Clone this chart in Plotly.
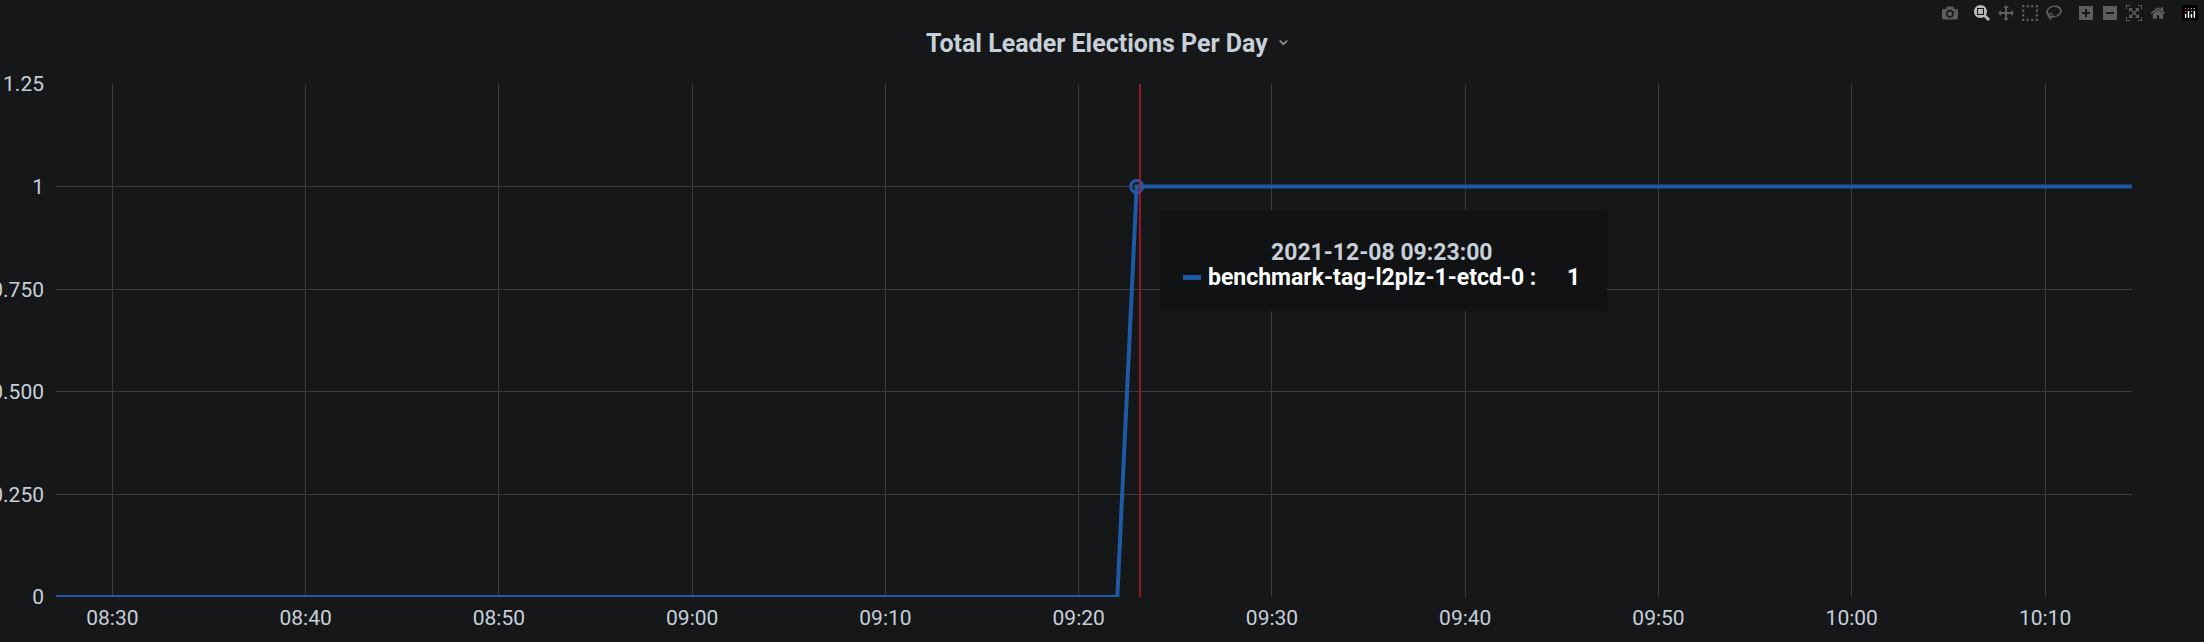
import plotly.graph_objects as go

# series (1-minute samples, step at 09:23)
times = ["2021-12-08 08:27:05", "2021-12-08 09:22:00", "2021-12-08 09:23:00", "2021-12-08 10:14:30"]
values = [0, 0, 1, 1]
series_name = "benchmark-tag-l2plz-1-etcd-0"
hover_time = "2021-12-08 09:23:00"
hover_value = 1
y_ticks = [0, 0.25, 0.5, 0.75, 1, 1.25]
y_labels = ["0", "0.250", "0.500", "0.750", "1", "1.25"]

W, H = 2204, 642
M = dict(l=56, r=72, t=84, b=25)
BG = "#161719"
TEXT = "#c7d0d9"
GRID = "#3b3c3f"
LINE = "#1f5aa6"
FONT = "Roboto, Inter, sans-serif"


def px_x(x):
    return (x - M["l"]) / (W - M["l"] - M["r"])


def px_y(y):
    return 1 - (y - M["t"]) / (H - M["t"] - M["b"])


fig = go.Figure()
fig.add_trace(go.Scatter(
    x=times, y=values, mode="lines", name=series_name,
    line=dict(color=LINE, width=4), hoverinfo="skip",
))
fig.add_trace(go.Scatter(
    x=[hover_time], y=[hover_value], mode="markers",
    marker=dict(size=12, color="rgba(0,0,0,0)", line=dict(color=LINE, width=3)),
    hoverinfo="skip",
))

# hover crosshair
fig.add_shape(type="line", xref="x", yref="paper", x0="2021-12-08 09:23:10",
              x1="2021-12-08 09:23:10", y0=0, y1=1, line=dict(color="#c4162a", width=1.5))

# tooltip box
fig.add_shape(type="rect", xref="paper", yref="paper",
              x0=px_x(1160), x1=px_x(1607), y0=px_y(320), y1=px_y(215),
              fillcolor="#111213", line=dict(width=0), layer="above")
fig.add_shape(type="line", xref="paper", yref="paper",
              x0=px_x(1183), x1=px_x(1201), y0=px_y(285), y1=px_y(285),
              line=dict(color=LINE, width=5), layer="above")
fig.add_annotation(xref="paper", yref="paper", x=px_x(1382), y=px_y(243),
                   text="<b>" + hover_time + "</b>", showarrow=False,
                   font=dict(size=23, color=TEXT, family=FONT))
fig.add_annotation(xref="paper", yref="paper", x=px_x(1206), y=px_y(285), xanchor="left",
                   text="<b>" + series_name + " :</b>", showarrow=False,
                   font=dict(size=23, color="#ffffff", family=FONT))
fig.add_annotation(xref="paper", yref="paper", x=px_x(1582), y=px_y(285),
                   text="<b>" + str(hover_value) + "</b>", showarrow=False,
                   font=dict(size=23, color="#ffffff", family=FONT))

# panel title
fig.add_annotation(xref="paper", yref="paper", x=px_x(1270), y=px_y(25), xanchor="right",
                   text="<b>Total Leader Elections Per Day</b>", showarrow=False,
                   font=dict(size=25, color=TEXT, family=FONT))
fig.add_annotation(xref="paper", yref="paper", x=px_x(1284), y=px_y(22),
                   text="⌄", showarrow=False, font=dict(size=20, color="#8e8e8e", family="DejaVu Sans"))

fig.update_layout(
    width=W, height=H, margin=M, paper_bgcolor=BG, plot_bgcolor=BG,
    showlegend=False, font=dict(family=FONT, color=TEXT, size=21),
)
fig.update_xaxes(
    type="date", range=[times[0], times[-1]], tickformat="%H:%M", dtick=600000,
    tick0="2021-12-08 08:30:00", showgrid=True, gridcolor=GRID, zeroline=False,
    showline=False, ticks="", ticklabelstandoff=6,
)
fig.update_yaxes(
    range=[0, 1.25], tickvals=y_ticks, ticktext=y_labels, showgrid=True, gridcolor=GRID,
    zeroline=False, showline=False, ticks="", ticklabelstandoff=11, automargin=False,
)

fig.write_html(
    "out.html",
    post_script="document.body.style.margin='0';document.body.style.background='#161719';",
)
